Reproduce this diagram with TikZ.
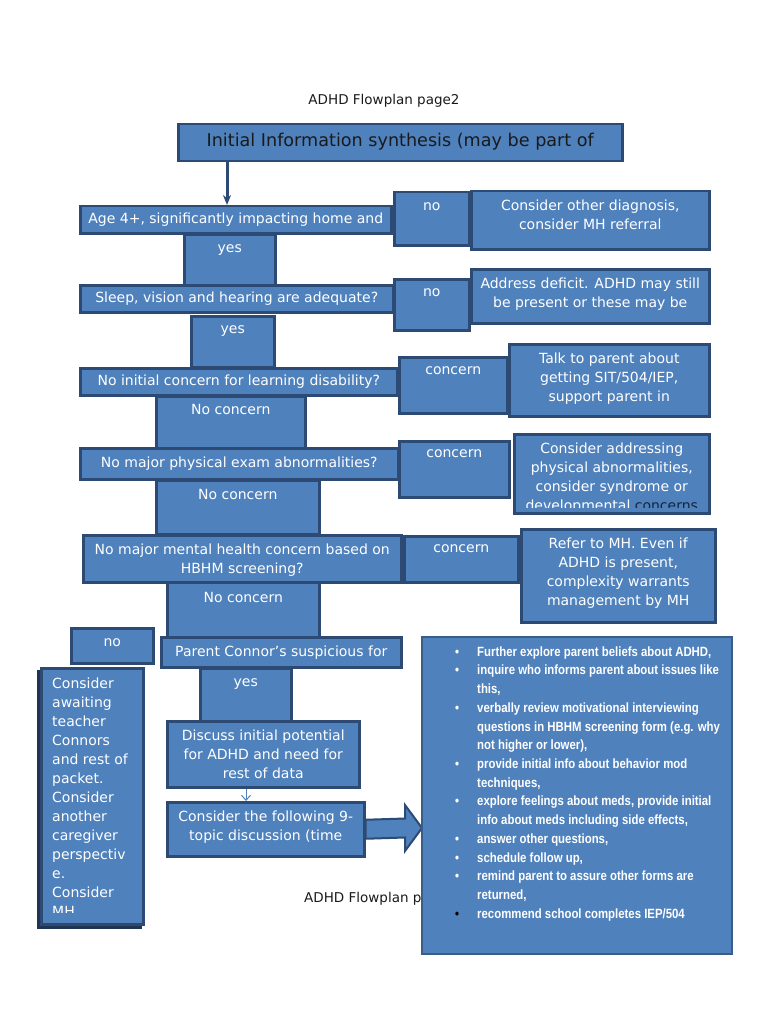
\documentclass[tikz,border=0pt]{standalone}
\usepackage{fontspec}
\setmainfont{DejaVu Sans}
\newfontfamily\narrowfont[FakeStretch=0.85]{Liberation Sans}
\usetikzlibrary{calc,arrows.meta}
\definecolor{boxfill}{HTML}{4F81BD}
\definecolor{boxline}{HTML}{2C4A74}
\definecolor{bulline}{HTML}{385D8A}
\definecolor{shadowc}{HTML}{1F3552}
\definecolor{inktext}{HTML}{1A1A1A}
\tikzset{
  box/.style={draw=boxline, fill=boxfill, line width=2.5pt, anchor=north west, inner sep=0pt},
  txt/.style={text=white, font=\fontsize{14}{19}\selectfont, align=center, inner sep=0pt, anchor=north},
  linetxt/.style={txt, anchor=center},
  plain/.style={text=inktext, font=\fontsize{13.5}{16}\selectfont, inner sep=0pt},
  mainarrow/.style={draw=boxline, line width=3pt, -{Stealth[length=10pt,width=8pt]}},
  thinarrow/.style={draw=boxfill, line width=1pt, -{Straight Barb[length=5pt,width=9pt]}},
  blockarrow/.style={draw=boxline, fill=boxfill, line width=2pt, line join=miter},
}
\newcommand\boxat[5]{\node[box,minimum width=#4pt,minimum height=#5pt] (#1) at (#2,#3) {};}
\newcommand\toptext[3]{\node[txt] (#1t) at ($(#1.north)+(0,#2+2)$) {#3};}
\newcommand\cliptext[3]{\begin{scope}\clip ($(#1.north west)+(3,3)$) rectangle ($(#1.south east)+(-3,-7)$);
  \node[txt] (#1t) at ($(#1.north)+(0,#2+2)$) {#3};\end{scope}}
\begin{document}
\begin{tikzpicture}[x=1pt,y=-1pt]
\useasboundingbox[fill=white] (0,0) rectangle (768,1024);

\node[plain] (title) at (384,101) {ADHD Flowplan page2};

% top box
\boxat{init}{177}{123}{444}{37}
\node[linetxt, text=inktext, font=\fontsize{17.6}{20}\selectfont] (initt) at ([yshift=1pt]init.center) {Initial Information synthesis (may be part of};

% row 1
\boxat{no1}{393}{191}{75}{53}
\toptext{no1}{9}{no}
\boxat{r1}{470}{190}{238}{58}
\toptext{r1}{8}{Consider other diagnosis,\\consider MH referral}
\boxat{yes1}{183}{233}{91}{51}
\toptext{yes1}{9}{yes}
\boxat{age}{79}{205}{311}{27}
\node[linetxt] (aget) at (age.center) {Age 4+, significantly impacting home and};

% row 2
\boxat{no2}{393}{278}{75}{51}
\toptext{no2}{8}{no}
\boxat{r2}{470}{268}{238}{54}
\cliptext{r2}{8}{Address deficit. ADHD may still\\be present or these may be}
\boxat{yes2}{190}{315}{83}{51}
\toptext{yes2}{8}{yes}
\boxat{sleep}{79}{284}{313}{27}
\node[linetxt] (sleept) at (sleep.center) {Sleep, vision and hearing are adequate?};

% row 3
\boxat{c3}{398}{356}{108}{56}
\toptext{c3}{8}{concern}
\boxat{r3}{508}{343}{200}{72}
\cliptext{r3}{8}{Talk to parent about\\getting SIT/504/IEP,\\support parent in}
\boxat{nc3}{155}{395}{149}{54}
\toptext{nc3}{7}{No concern}
\boxat{learn}{79}{367}{317}{27}
\node[linetxt] (learnt) at (learn.center) {No initial concern for learning disability?};

% row 4
\boxat{c4}{398}{440}{110}{56}
\toptext{c4}{7}{concern}
\boxat{r4}{513}{433}{195}{79}
\cliptext{r4}{8}{Consider addressing\\physical abnormalities,\\consider syndrome or\\developmental \textcolor{boxline!50!black}{concerns}}
\boxat{nc4}{155}{479}{163}{54}
\toptext{nc4}{8}{No concern}
\boxat{phys}{79}{447}{318}{31}
\node[linetxt] (physt) at (phys.center) {No major physical exam abnormalities?};

% row 5
\boxat{mh}{82}{534}{318}{47}
\toptext{mh}{8}{No major mental health concern based on\\HBHM screening?}
\boxat{c5}{403}{535}{114}{46}
\toptext{c5}{7}{concern}
\boxat{r5}{520}{528}{194}{93}
\cliptext{r5}{8}{Refer to MH. Even if\\ADHD is present,\\complexity warrants\\management by MH}
\boxat{nc5}{166}{581}{152}{56}
\toptext{nc5}{9}{No concern}

% row 6
\boxat{yes3}{199}{667}{91}{53}
\toptext{yes3}{9}{yes}
\boxat{parent}{160}{636}{240}{30}
\node[linetxt] (parentt) at (parent.center) {Parent Connor’s suspicious for};
\boxat{no6}{70}{627}{82}{35}
\toptext{no6}{9}{no}

\node[box, draw=shadowc, fill=shadowc, minimum width=102pt, minimum height=256pt] (leftsh) at (37,670) {};
\boxat{left}{40}{667}{102}{256}
\begin{scope}
  \clip ($(left.north west)+(3,3)$) rectangle ($(left.south east)+(-3,-13)$);
  \node[txt, anchor=north west, align=left] (leftt) at (52,678) {Consider\\awaiting\\teacher\\Connors\\and rest of\\packet.\\Consider\\another\\caregiver\\perspectiv\\e.\\Consider\\MH};
\end{scope}

\boxat{disc}{166}{720}{192}{66}
\toptext{disc}{8}{Discuss initial potential\\for ADHD and need for\\rest of data}
\boxat{c9}{166}{801}{197}{54}
\cliptext{c9}{8}{Consider the following 9-\\topic discussion (time}

\draw[thinarrow] ($(disc.south west)+(80,0)$) -- ($(c9.north west)+(80,0)$);

\node[plain, anchor=west] (foot) at (304,899) {ADHD Flowplan page2};

% block arrow
\draw[blockarrow] ($(c9.east)+(0,-9.5)$) -- (405,818.5) -- (405,805) -- (422,828) -- (405,851) -- (405,837.5) -- ($(c9.east)+(0,9.5)$) -- cycle;

% bullets box
\node[box, draw=bulline, line width=1.5pt, minimum width=310pt, minimum height=317pt] (bul) at (421,636) {};
\node[anchor=north west, inner sep=0pt, text=white, font=\narrowfont\bfseries\fontsize{13.4}{18.7}\selectfont] (bult) at (455,643) {%
\begin{tabular}{@{}p{22pt}@{}l@{}}
\textbullet & Further explore parent beliefs about ADHD,\\
\textbullet & inquire who informs parent about issues like\\
 & this,\\
\textbullet & verbally review motivational interviewing\\
 & questions in HBHM screening form (e.g. why\\
 & not higher or lower),\\
\textbullet & provide initial info about behavior mod\\
 & techniques,\\
\textbullet & explore feelings about meds, provide initial\\
 & info about meds including side effects,\\
\textbullet & answer other questions,\\
\textbullet & schedule follow up,\\
\textbullet & remind parent to assure other forms are\\
 & returned,\\
\textcolor{black}{\textbullet} & recommend school completes IEP/504
\end{tabular}};

% main arrow
\draw[mainarrow] ($(init.south west)+(50,0)$) -- ($(age.north west)+(148,0)$);
\end{tikzpicture}
\end{document}
